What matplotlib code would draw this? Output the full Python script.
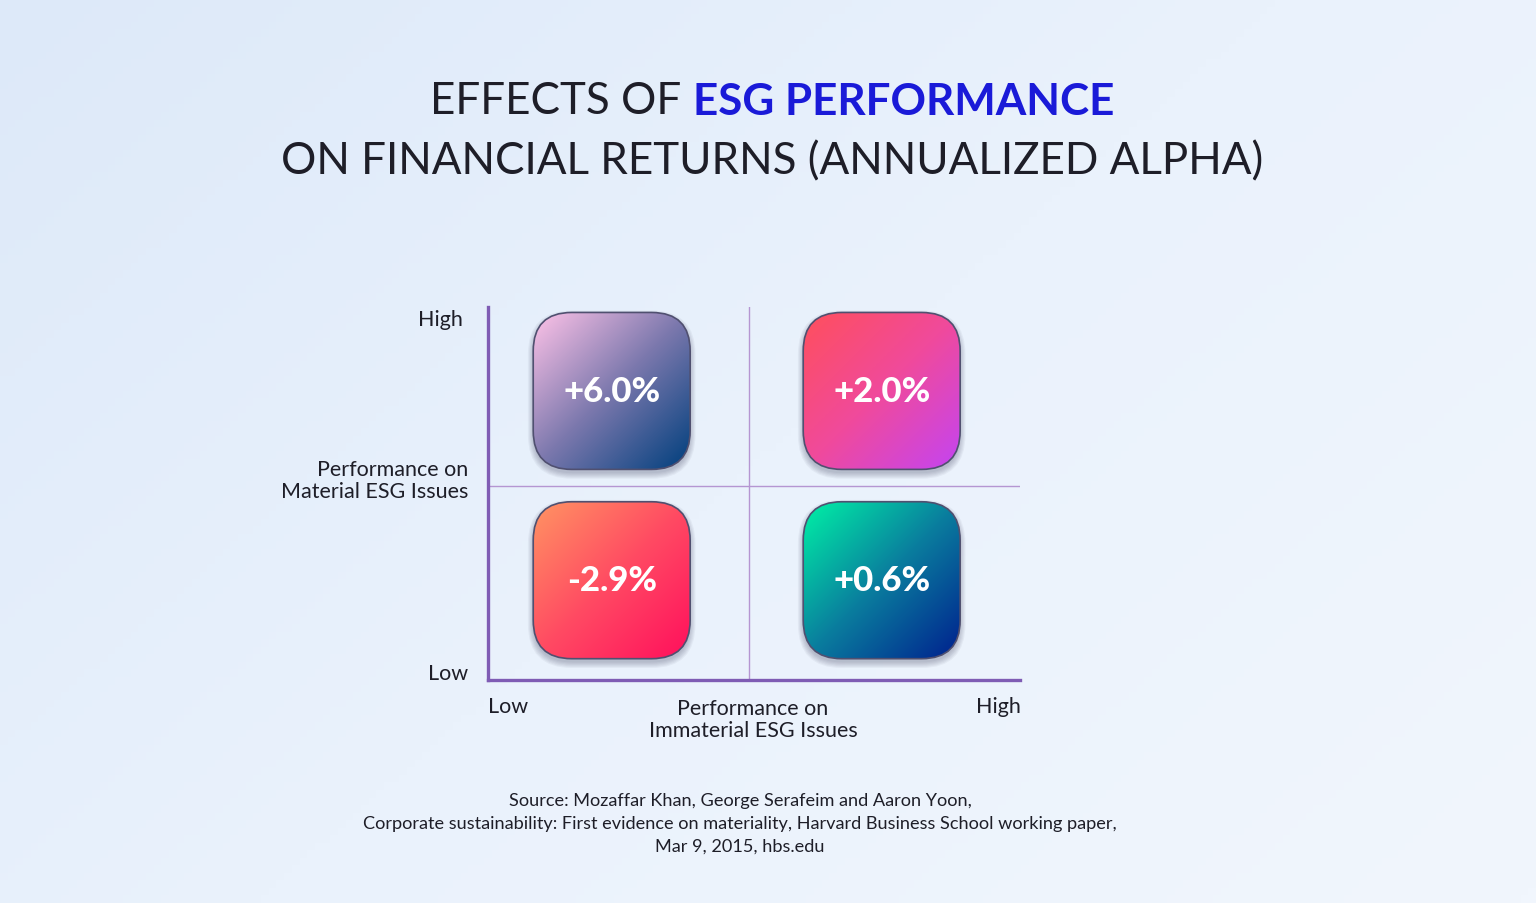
import numpy as np
import matplotlib
matplotlib.use('Agg')
import matplotlib.pyplot as plt
from matplotlib.patches import FancyBboxPatch
from matplotlib.colors import LinearSegmentedColormap

# quadrant data: (column, row) -> immaterial / material performance (0=Low, 1=High)
cols = [0, 1, 0, 1]
rows = [1, 1, 0, 0]
values = [6.0, 2.0, -2.9, 0.6]
gradients = [
    ['#ffc3e8', '#7b78ad', '#003f7d'],
    ['#ff4f5c', '#f04a9c', '#c444f2'],
    ['#ff9462', '#ff4a63', '#ff0f5c'],
    ['#00f2a6', '#0a7d9e', '#00208e'],
]
tick_low, tick_high = 'Low', 'High'
source = ("Source: Mozaffar Khan, George Serafeim and Aaron Yoon,\n"
          "Corporate sustainability: First evidence on materiality, Harvard Business School working paper,\n"
          "Mar 9, 2015, hbs.edu")

FONT = 'Lato'
W, H = 1536, 904
fig = plt.figure(figsize=(W / 100, H / 100), dpi=100)

# background gradient
bg = fig.add_axes([0, 0, 1, 1])
gx, gy = np.meshgrid(np.linspace(0, 1, 200), np.linspace(0, 1, 120))
bg_cmap = LinearSegmentedColormap.from_list('bg', ['#dde9f9', '#eaf2fc', '#f1f6fd'])
bg.imshow((gx * 0.6 + gy * 0.4), cmap=bg_cmap, aspect='auto', extent=[0, 1, 0, 1], origin='upper')
bg.set_axis_off()

# title
TS = 31.7
t1a = fig.text(0, 101 / H, 'EFFECTS OF ', fontsize=TS, family=FONT, color='#1e1e28',
               va='center', ha='left')
t1b = fig.text(0, 101 / H, 'ESG PERFORMANCE', fontsize=TS, family=FONT, color='#1a1ad8',
               fontweight='bold', va='center', ha='left')
fig.text(772 / W, 1 - 162 / H, 'ON FINANCIAL RETURNS (ANNUALIZED ALPHA)', fontsize=TS,
         family=FONT, color='#1e1e28', va='center', ha='center')
r = fig.canvas.get_renderer()
wa = t1a.get_window_extent(r).width
wb = t1b.get_window_extent(r).width
x0 = 772 - (wa + wb) / 2
t1a.set_position((x0 / W, 1 - 102 / H))
t1b.set_position(((x0 + wa) / W, 1 - 102 / H))

# quadrant axes
ax_l, ax_r, ax_t, ax_b = 488, 1020, 308, 681
ax = fig.add_axes([ax_l / W, 1 - ax_b / H, (ax_r - ax_l) / W, (ax_b - ax_t) / H])
ax.set_xlim(0, 2)
ax.set_ylim(0, 2)
ax.patch.set_alpha(0)
for s in ['top', 'right']:
    ax.spines[s].set_visible(False)
for s in ['left', 'bottom']:
    ax.spines[s].set_color('#7f5cb4')
    ax.spines[s].set_linewidth(2.4)
ax.set_xticks([])
ax.set_yticks([])
ax.plot([0.98, 0.98], [0, 2], color='#b596d2', lw=1, zorder=1)
ax.plot([0, 2], [1.04, 1.04], color='#b596d2', lw=1, zorder=1)

asp = (2 / (ax_b - ax_t)) / (2 / (ax_r - ax_l))
half_w = 0.295
half_h = half_w * asp
rad = 0.145
for c, rw, v, g in zip(cols, rows, values, gradients):
    cx = 0.465 + c * 1.015
    cy = 0.535 + rw * 1.015
    # soft shadow
    for k in range(6):
        sh = FancyBboxPatch((cx - half_w - 0.004 * k, cy - half_h - 0.02 - 0.006 * k),
                            2 * half_w + 0.008 * k, 2 * half_h + 0.012 * k,
                            boxstyle=f'round,pad=0,rounding_size={rad + 0.004 * k}',
                            mutation_aspect=asp, fc='#303050', ec='none', alpha=0.05, zorder=2)
        ax.add_patch(sh)
    box = FancyBboxPatch((cx - half_w, cy - half_h), 2 * half_w, 2 * half_h,
                         boxstyle=f'round,pad=0,rounding_size={rad}', mutation_aspect=asp,
                         fc='none', ec='#505070', lw=1.2, zorder=4)
    ax.add_patch(box)
    xx, yy = np.meshgrid(np.linspace(0, 1, 200), np.linspace(0, 1, 200))
    tgrad = (xx + yy) / 2
    cmap = LinearSegmentedColormap.from_list('g', g)
    im = ax.imshow(tgrad, cmap=cmap, extent=[cx - half_w, cx + half_w, cy - half_h, cy + half_h],
                   origin='upper', aspect='auto', zorder=3)
    im.set_clip_path(box)
    label = f'{v:+.1f}%'
    ax.text(cx, cy, label, color='white', fontsize=25, fontweight='heavy', family=FONT,
            ha='center', va='center', zorder=5)

# axis labels
lab = dict(fontsize=15.5, family=FONT, color='#1e1e28')
fig.text(463 / W, 1 - 320 / H, tick_high, ha='right', va='center', **lab)
fig.text(468 / W, 1 - 674 / H, tick_low, ha='right', va='center', **lab)
fig.text(468 / W, 1 - 481 / H, 'Performance on\nMaterial ESG Issues', ha='right', va='center',
         multialignment='right', linespacing=1.15, **lab)
fig.text(488 / W, 1 - 707 / H, tick_low, ha='left', va='center', **lab)
fig.text(1021 / W, 1 - 707 / H, tick_high, ha='right', va='center', **lab)
fig.text(753 / W, 1 - 720 / H, 'Performance on\nImmaterial ESG Issues', ha='center', va='center',
         multialignment='center', linespacing=1.15, **lab)

fig.text(740 / W, 1 - 824 / H, source, ha='center', va='center', fontsize=13.1, family=FONT,
         color='#1e1e28', linespacing=1.5)

fig.savefig('out.png', dpi=100)
